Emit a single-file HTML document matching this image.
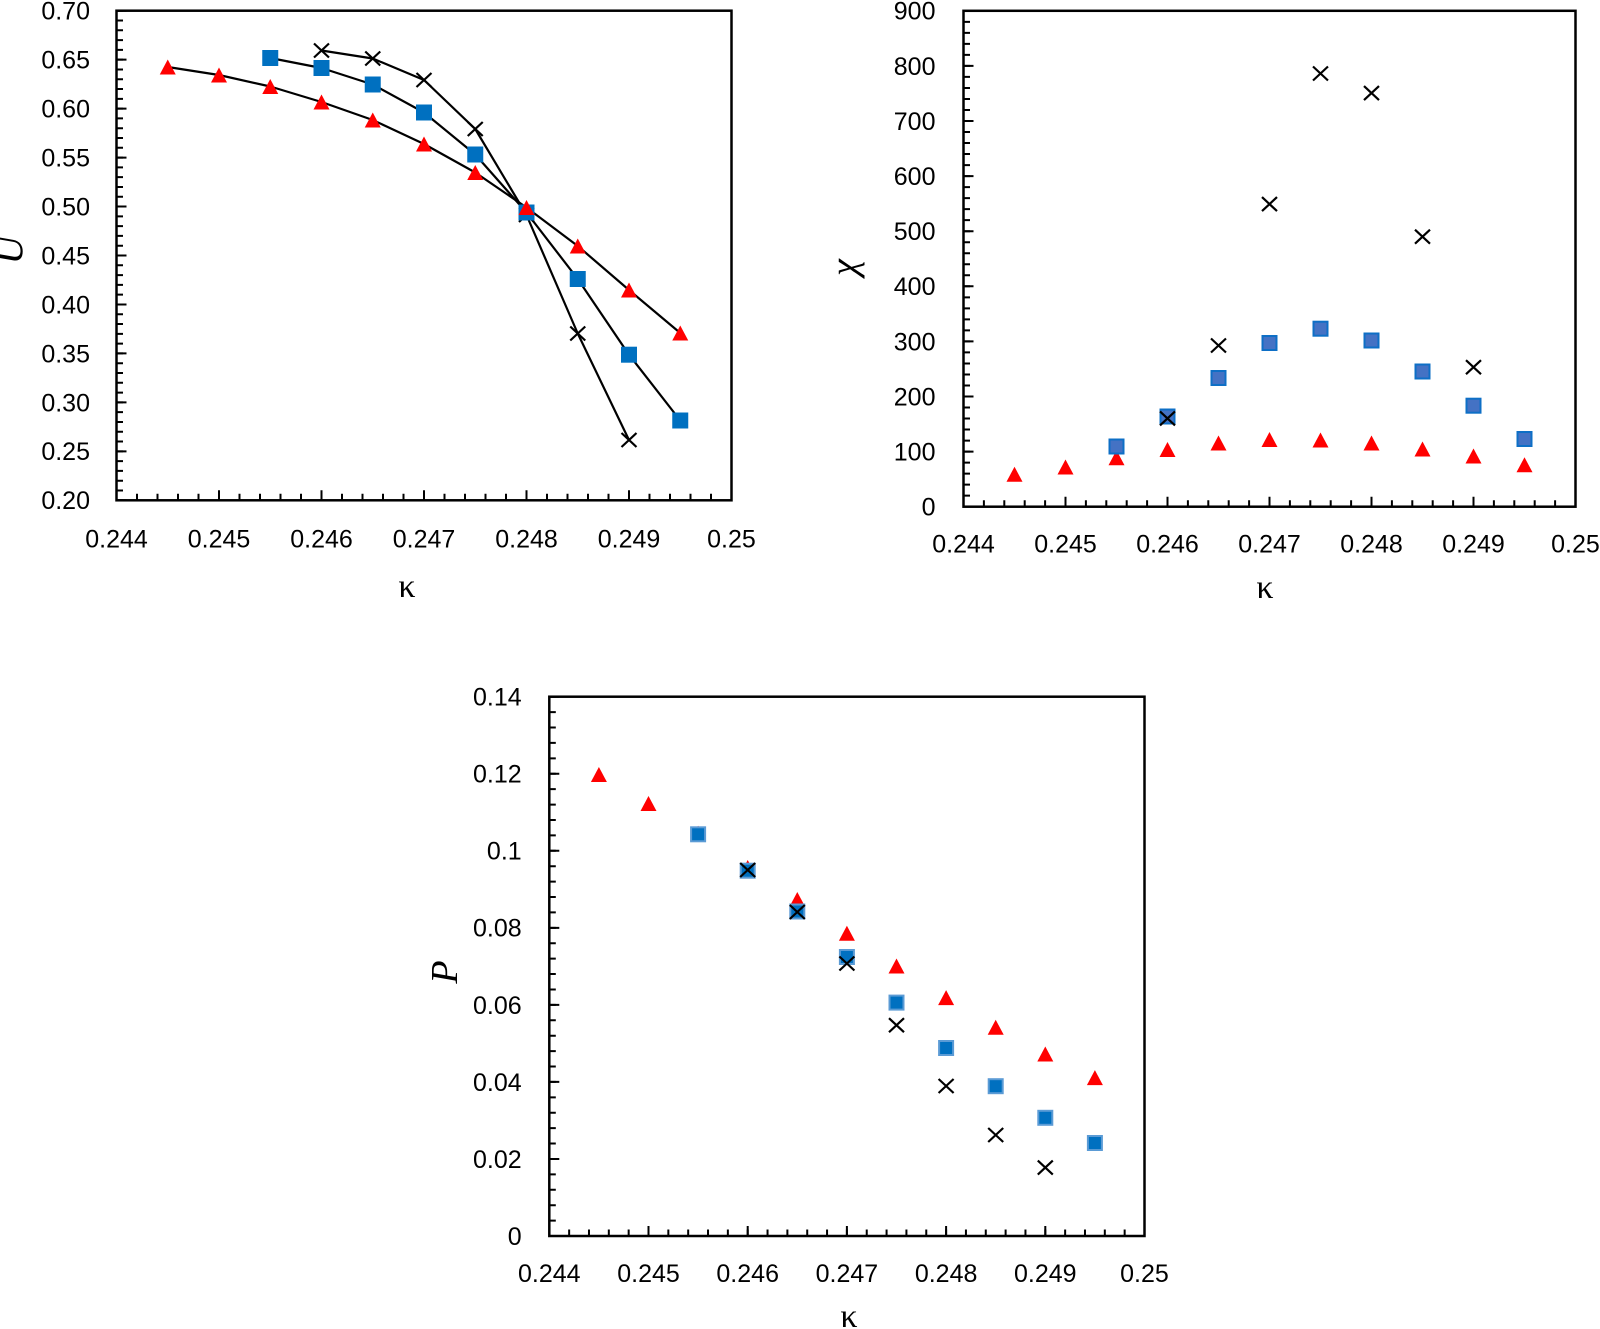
<!DOCTYPE html>
<html>
<head>
<meta charset="utf-8">
<style>
html,body{margin:0;padding:0;background:#fff;width:1600px;height:1329px;overflow:hidden}
svg{display:block}
.t{font-family:"Liberation Sans",Arial,sans-serif;font-size:25px;fill:#000}
.ttl{font-family:"Liberation Serif","DejaVu Serif",serif;fill:#000}
</style>
</head>
<body>
<svg width="1600" height="1329" viewBox="0 0 1600 1329">
<defs>
<path id="tri" d="M0,-7.5 L8,7.5 L-8,7.5 Z" fill="#FF0000"/>
<rect id="sq1" x="-8" y="-8" width="16" height="16" fill="#0070C0"/>
<rect id="sq2" x="-7" y="-7" width="14" height="14" fill="#4472C4" stroke="#0E6FC6" stroke-width="2"/>
<rect id="sq3" x="-7" y="-7" width="14" height="14" fill="#0070C0" stroke="#5B9BD5" stroke-width="2"/>
<path id="xm" d="M-7.5,-7 L7.5,7 M-7.5,7 L7.5,-7" stroke="#000" stroke-width="2.2" fill="none"/>
</defs>

<!-- ================= PLOT 1 (U) ================= -->
<g stroke="#000" fill="none">
<line x1="119.75" y1="10.7" x2="119.75" y2="500.3" stroke-width="6.5" stroke-dasharray="2 7.792" stroke-dashoffset="1"/>
<line x1="121.5" y1="10.7" x2="121.5" y2="500.3" stroke-width="10" stroke-dasharray="2 46.96" stroke-dashoffset="1"/>
<line x1="116.5" y1="497.05" x2="731.5" y2="497.05" stroke-width="6.5" stroke-dasharray="2 18.5" stroke-dashoffset="1"/>
<line x1="116.5" y1="495.3" x2="731.5" y2="495.3" stroke-width="10" stroke-dasharray="2 100.5" stroke-dashoffset="1"/>
<rect x="116.5" y="10.7" width="615" height="489.6" stroke-width="2.5"/>
</g>
<g stroke="#000" stroke-width="2.2" fill="none" stroke-linejoin="round">
<polyline points="321.5,50.5 372.75,58.5 424,80 475.25,129 526.5,215 577.75,333.5 629,440"/>
<polyline points="270.25,58 321.5,68 372.75,84.5 424,112.5 475.25,154.5 526.5,212.5 577.75,279 629,354.7 680.25,420.5"/>
<polyline points="167.75,67 219,75 270.25,86.5 321.5,102 372.75,120 424,144 475.25,172.5 526.5,207.5 577.75,246 629,290 680.25,333"/>
</g>
<g>
<use href="#xm" x="321.5" y="50.5"/><use href="#xm" x="372.75" y="58.5"/><use href="#xm" x="424" y="80"/><use href="#xm" x="475.25" y="129"/><use href="#xm" x="526.5" y="215"/><use href="#xm" x="577.75" y="333.5"/><use href="#xm" x="629" y="440"/>
<use href="#sq1" x="270.25" y="58"/><use href="#sq1" x="321.5" y="68"/><use href="#sq1" x="372.75" y="84.5"/><use href="#sq1" x="424" y="112.5"/><use href="#sq1" x="475.25" y="154.5"/><use href="#sq1" x="526.5" y="212.5"/><use href="#sq1" x="577.75" y="279"/><use href="#sq1" x="629" y="354.7"/><use href="#sq1" x="680.25" y="420.5"/>
<use href="#tri" x="167.75" y="67"/><use href="#tri" x="219" y="75"/><use href="#tri" x="270.25" y="86.5"/><use href="#tri" x="321.5" y="102"/><use href="#tri" x="372.75" y="120"/><use href="#tri" x="424" y="144"/><use href="#tri" x="475.25" y="172.5"/><use href="#tri" x="526.5" y="207.5"/><use href="#tri" x="577.75" y="246"/><use href="#tri" x="629" y="290"/><use href="#tri" x="680.25" y="333"/>
</g>
<g class="t" text-anchor="end">
<text x="90" y="19.6">0.70</text>
<text x="90" y="68.6">0.65</text>
<text x="90" y="117.5">0.60</text>
<text x="90" y="166.5">0.55</text>
<text x="90" y="215.4">0.50</text>
<text x="90" y="264.4">0.45</text>
<text x="90" y="313.4">0.40</text>
<text x="90" y="362.3">0.35</text>
<text x="90" y="411.3">0.30</text>
<text x="90" y="460.2">0.25</text>
<text x="90" y="509.2">0.20</text>
</g>
<g class="t" text-anchor="middle">
<text x="116.5" y="547.5">0.244</text>
<text x="219" y="547.5">0.245</text>
<text x="321.5" y="547.5">0.246</text>
<text x="424" y="547.5">0.247</text>
<text x="526.5" y="547.5">0.248</text>
<text x="629" y="547.5">0.249</text>
<text x="731.5" y="547.5">0.25</text>
</g>
<text class="ttl" x="407" y="597" font-size="34" text-anchor="middle">κ</text>
<text class="ttl" transform="translate(22.5,250) rotate(-90)" font-size="40" font-style="italic" text-anchor="middle">U</text>

<!-- ================= PLOT 2 (chi) ================= -->
<g stroke="#000" fill="none">
<line x1="966.75" y1="10.8" x2="966.75" y2="506.7" stroke-width="6.5" stroke-dasharray="2 9.02" stroke-dashoffset="1"/>
<line x1="968.5" y1="10.8" x2="968.5" y2="506.7" stroke-width="10" stroke-dasharray="2 53.1" stroke-dashoffset="1"/>
<line x1="963.5" y1="503.45" x2="1575.5" y2="503.45" stroke-width="6.5" stroke-dasharray="2 18.4" stroke-dashoffset="1"/>
<line x1="963.5" y1="501.7" x2="1575.5" y2="501.7" stroke-width="10" stroke-dasharray="2 100" stroke-dashoffset="1"/>
<rect x="963.5" y="10.8" width="612" height="495.9" stroke-width="2.5"/>
</g>
<g>
<use href="#tri" x="1014.5" y="474.2"/><use href="#tri" x="1065.5" y="467"/><use href="#tri" x="1116.5" y="457.7"/><use href="#tri" x="1167.5" y="449.5"/><use href="#tri" x="1218.5" y="443"/><use href="#tri" x="1269.5" y="439.5"/><use href="#tri" x="1320.5" y="440"/><use href="#tri" x="1371.5" y="443"/><use href="#tri" x="1422.5" y="449"/><use href="#tri" x="1473.5" y="456"/><use href="#tri" x="1524.5" y="464.7"/>
<use href="#sq2" x="1116.5" y="446.5"/><use href="#sq2" x="1167.5" y="416.5"/><use href="#sq2" x="1218.5" y="378"/><use href="#sq2" x="1269.5" y="343"/><use href="#sq2" x="1320.5" y="328.7"/><use href="#sq2" x="1371.5" y="340.5"/><use href="#sq2" x="1422.5" y="371.5"/><use href="#sq2" x="1473.5" y="405.7"/><use href="#sq2" x="1524.5" y="439"/>
<use href="#xm" x="1167.5" y="418.4"/><use href="#xm" x="1218.5" y="345.5"/><use href="#xm" x="1269.5" y="204.1"/><use href="#xm" x="1320.5" y="73.5"/><use href="#xm" x="1371.5" y="93.1"/><use href="#xm" x="1422.5" y="236.7"/><use href="#xm" x="1473.5" y="367.2"/>
</g>
<g class="t" text-anchor="end">
<text x="935.5" y="19.7">900</text>
<text x="935.5" y="74.8">800</text>
<text x="935.5" y="129.9">700</text>
<text x="935.5" y="185">600</text>
<text x="935.5" y="240.1">500</text>
<text x="935.5" y="295.2">400</text>
<text x="935.5" y="350.3">300</text>
<text x="935.5" y="405.4">200</text>
<text x="935.5" y="460.5">100</text>
<text x="935.5" y="515.6">0</text>
</g>
<g class="t" text-anchor="middle">
<text x="963.5" y="552.5">0.244</text>
<text x="1065.5" y="552.5">0.245</text>
<text x="1167.5" y="552.5">0.246</text>
<text x="1269.5" y="552.5">0.247</text>
<text x="1371.5" y="552.5">0.248</text>
<text x="1473.5" y="552.5">0.249</text>
<text x="1575.5" y="552.5">0.25</text>
</g>
<text class="ttl" x="1265" y="598" font-size="34" text-anchor="middle">κ</text>
<text class="ttl" transform="translate(856.5,267.5) rotate(-90)" font-size="38" font-style="italic" text-anchor="middle">χ</text>

<!-- ================= PLOT 3 (P) ================= -->
<g stroke="#000" fill="none">
<line x1="552.55" y1="696.7" x2="552.55" y2="1236" stroke-width="6.5" stroke-dasharray="2 13.409" stroke-dashoffset="1"/>
<line x1="554.3" y1="696.7" x2="554.3" y2="1236" stroke-width="10" stroke-dasharray="2 75.04" stroke-dashoffset="1"/>
<line x1="549.3" y1="1232.75" x2="1144.5" y2="1232.75" stroke-width="6.5" stroke-dasharray="2 17.84" stroke-dashoffset="1"/>
<line x1="549.3" y1="1231" x2="1144.5" y2="1231" stroke-width="10" stroke-dasharray="2 97.2" stroke-dashoffset="1"/>
<rect x="549.3" y="696.7" width="595.2" height="539.3" stroke-width="2.5"/>
</g>
<g>
<use href="#tri" x="598.9" y="774.5"/><use href="#tri" x="648.5" y="803.5"/><use href="#tri" x="698.1" y="833.3"/><use href="#tri" x="747.7" y="867.5"/><use href="#tri" x="797.3" y="899.5"/><use href="#tri" x="846.9" y="933.3"/><use href="#tri" x="896.5" y="966"/><use href="#tri" x="946.1" y="997.6"/><use href="#tri" x="995.7" y="1027.2"/><use href="#tri" x="1045.3" y="1054"/><use href="#tri" x="1094.9" y="1077.6"/>
<use href="#sq3" x="698.1" y="834.3"/><use href="#sq3" x="747.7" y="870.7"/><use href="#sq3" x="797.3" y="911.5"/><use href="#sq3" x="846.9" y="957"/><use href="#sq3" x="896.5" y="1002.6"/><use href="#sq3" x="946.1" y="1048"/><use href="#sq3" x="995.7" y="1086.2"/><use href="#sq3" x="1045.3" y="1117.8"/><use href="#sq3" x="1094.9" y="1143"/>
<use href="#xm" x="747.7" y="870"/><use href="#xm" x="797.3" y="912"/><use href="#xm" x="846.9" y="963.5"/><use href="#xm" x="896.5" y="1025.2"/><use href="#xm" x="946.1" y="1086"/><use href="#xm" x="995.7" y="1135"/><use href="#xm" x="1045.3" y="1167.6"/>
</g>
<g class="t" text-anchor="end">
<text x="521.7" y="705.6">0.14</text>
<text x="521.7" y="782.6">0.12</text>
<text x="521.7" y="859.7">0.1</text>
<text x="521.7" y="936.7">0.08</text>
<text x="521.7" y="1013.8">0.06</text>
<text x="521.7" y="1090.8">0.04</text>
<text x="521.7" y="1167.8">0.02</text>
<text x="521.7" y="1244.9">0</text>
</g>
<g class="t" text-anchor="middle">
<text x="549.3" y="1282">0.244</text>
<text x="648.5" y="1282">0.245</text>
<text x="747.7" y="1282">0.246</text>
<text x="846.9" y="1282">0.247</text>
<text x="946.1" y="1282">0.248</text>
<text x="1045.3" y="1282">0.249</text>
<text x="1144.5" y="1282">0.25</text>
</g>
<text class="ttl" x="849" y="1327" font-size="34" text-anchor="middle">κ</text>
<text class="ttl" transform="translate(457,972) rotate(-90)" font-size="38" font-style="italic" text-anchor="middle">P</text>
</svg>
</body>
</html>
